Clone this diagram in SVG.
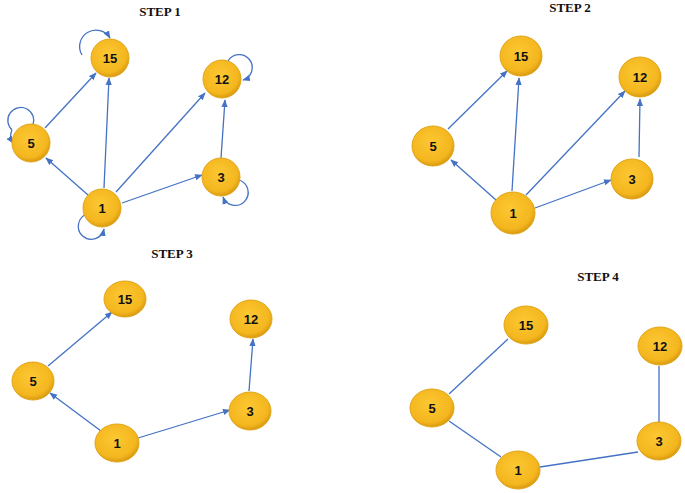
<svg xmlns="http://www.w3.org/2000/svg" width="685" height="493" viewBox="0 0 685 493">
<defs>
<radialGradient id="g" cx="0.45" cy="0.4" r="0.6"><stop offset="0" stop-color="#FCC833"/><stop offset="0.8" stop-color="#F4B61E"/><stop offset="1" stop-color="#D99A10"/></radialGradient>
<marker id="a" viewBox="0 0 10 10" refX="9" refY="5" markerWidth="6" markerHeight="6" orient="auto"><path d="M0,1 L10,5 L0,9 z" fill="#4472C4"/></marker>
<style>
.n ellipse{fill:url(#g);stroke:#E0A51A;stroke-width:1}
.n text{font-family:"Liberation Sans",Arial,sans-serif;font-weight:bold;font-size:13px;text-anchor:middle;fill:#111}
.t{font-family:"Liberation Serif","Times New Roman",serif;font-weight:bold;font-size:13px;text-anchor:middle;fill:#111}
.e line,.e path{stroke:#4472C4;stroke-width:1.3;fill:none}
.d{marker-end:url(#a)}
</style>
</defs>
<rect width="685" height="493" fill="#fff"/>
<text class="t" x="160" y="16">STEP 1</text>
<text class="t" x="570" y="12">STEP 2</text>
<text class="t" x="172" y="258">STEP 3</text>
<text class="t" x="598" y="281">STEP 4</text>
<g id="connectors" class="e">
<!-- step1 -->
<line class="d" x1="45" y1="128" x2="96" y2="73"/>
<line class="d" x1="104" y1="188" x2="109" y2="78"/>
<line class="d" x1="88" y1="195" x2="46" y2="158"/>
<line class="d" x1="116" y1="192" x2="205" y2="93"/>
<line class="d" x1="122" y1="203" x2="202" y2="175"/>
<line class="d" x1="221" y1="158" x2="225" y2="100"/>
<path class="d" d="M82,55 A14,14 0 1 1 110,38"/>
<path class="d" d="M12,130 A13,13 0 1 1 33,125 M12,130 A13,13 0 0 0 13,143"/>
<path class="d" d="M228,61 A13,13 0 1 1 243,80"/>
<path class="d" d="M239,180 A13,13 0 1 1 223,197"/>
<path class="d" d="M87,214 A13,13 0 1 0 104,229"/>
<!-- step2 -->
<line class="d" x1="448" y1="129" x2="507" y2="71"/>
<line class="d" x1="512" y1="191" x2="519" y2="78"/>
<line class="d" x1="496" y1="200" x2="451" y2="160"/>
<line class="d" x1="526" y1="195" x2="625" y2="91"/>
<line class="d" x1="535" y1="208" x2="611" y2="180"/>
<line class="d" x1="639" y1="157" x2="640" y2="99"/>
<!-- step3 -->
<line class="d" x1="48" y1="366" x2="112" y2="312"/>
<line class="d" x1="101" y1="431" x2="50" y2="393"/>
<line class="d" x1="138" y1="438" x2="230" y2="410"/>
<line class="d" x1="249" y1="391" x2="253" y2="339"/>
<!-- step4 -->
<line x1="449" y1="394" x2="508" y2="339"/>
<line x1="449" y1="421" x2="501" y2="457"/>
<line x1="540" y1="467" x2="638" y2="452"/>
<line x1="659" y1="366" x2="659" y2="422"/>
</g>
<g id="s1n15" class="n"><ellipse cx="110" cy="58" rx="19" ry="19"/><text x="110" y="63">15</text></g>
<g id="s1n12" class="n"><ellipse cx="222" cy="79" rx="19" ry="19"/><text x="222" y="84">12</text></g>
<g id="s1n5" class="n"><ellipse cx="31" cy="143" rx="19" ry="19"/><text x="31" y="148">5</text></g>
<g id="s1n3" class="n"><ellipse cx="221" cy="177" rx="19" ry="19"/><text x="221" y="182">3</text></g>
<g id="s1n1" class="n"><ellipse cx="102" cy="208" rx="19" ry="19"/><text x="102" y="213">1</text></g>
<g id="s2n15" class="n"><ellipse cx="521" cy="56" rx="21" ry="20"/><text x="521" y="61">15</text></g>
<g id="s2n12" class="n"><ellipse cx="640" cy="77" rx="21" ry="20"/><text x="640" y="82">12</text></g>
<g id="s2n5" class="n"><ellipse cx="433" cy="146" rx="21" ry="20"/><text x="433" y="151">5</text></g>
<g id="s2n3" class="n"><ellipse cx="632" cy="179" rx="21" ry="20"/><text x="632" y="184">3</text></g>
<g id="s2n1" class="n"><ellipse cx="513" cy="213" rx="22" ry="21"/><text x="513" y="218">1</text></g>
<g id="s3n15" class="n"><ellipse cx="125" cy="299" rx="21" ry="18"/><text x="125" y="304">15</text></g>
<g id="s3n12" class="n"><ellipse cx="251" cy="319" rx="21" ry="19"/><text x="251" y="324">12</text></g>
<g id="s3n5" class="n"><ellipse cx="33" cy="381" rx="21" ry="19"/><text x="33" y="386">5</text></g>
<g id="s3n3" class="n"><ellipse cx="250" cy="411" rx="21" ry="19"/><text x="250" y="416">3</text></g>
<g id="s3n1" class="n"><ellipse cx="117" cy="443" rx="22" ry="19"/><text x="117" y="448">1</text></g>
<g id="s4n15" class="n"><ellipse cx="526" cy="325" rx="22" ry="19"/><text x="526" y="330">15</text></g>
<g id="s4n12" class="n"><ellipse cx="660" cy="346" rx="22" ry="19"/><text x="660" y="351">12</text></g>
<g id="s4n5" class="n"><ellipse cx="432" cy="408" rx="22" ry="19"/><text x="432" y="413">5</text></g>
<g id="s4n3" class="n"><ellipse cx="659" cy="441" rx="22" ry="19"/><text x="659" y="446">3</text></g>
<g id="s4n1" class="n"><ellipse cx="518" cy="470" rx="22" ry="19"/><text x="518" y="475">1</text></g>
</svg>
